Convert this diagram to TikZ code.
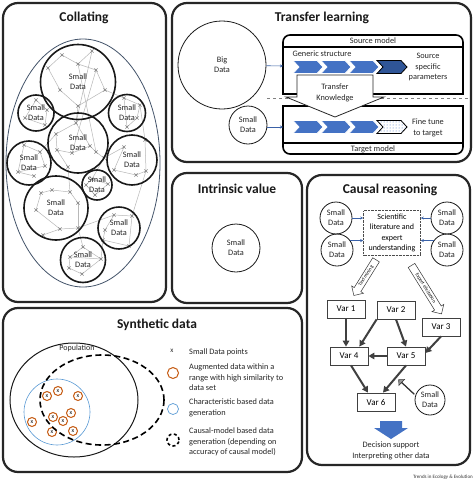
\documentclass[tikz,border=0pt]{standalone}
\usepackage{fontspec}
\setmainfont{Carlito}
\usetikzlibrary{shapes.arrows,arrows.meta,patterns}
\definecolor{cblue}{HTML}{4472C4}
\definecolor{cdblue}{HTML}{2F5597}
\definecolor{corange}{HTML}{C55A11}
\definecolor{clblue}{HTML}{5B9BD5}
\definecolor{cslate}{HTML}{44546A}
\definecolor{carrow}{HTML}{404040}
\newcommand\chevr[3]{\filldraw[#3] (#1,{#2-6.5}) -- ({#1+24},{#2-6.5}) -- ({#1+30},#2) -- ({#1+24},{#2+6.5}) -- (#1,{#2+6.5}) -- ({#1+6},#2) -- cycle;}
\begin{document}
\begin{tikzpicture}[x=1pt,y=-1pt,
  panel/.style={draw=black!85, line width=2.2pt, rounded corners=15pt},
  ptitle/.style={font=\bfseries\fontsize{13.5}{15}\selectfont, text=black!90},
  sd/.style={circle, draw=black!90, line width=1.6pt, align=center, inner sep=0pt, font=\fontsize{8.3}{10}\selectfont, text=black!85},
  sdt/.style={circle, draw=black!90, line width=0.8pt, align=center, inner sep=0pt, font=\fontsize{8.3}{10}\selectfont, text=black!85},
  txt/.style={align=center, font=\fontsize{8.3}{10.5}\selectfont, text=black!85, inner sep=0pt},
  ltxt/.style={align=left, anchor=west, font=\fontsize{8.3}{10.5}\selectfont, text=black!85, inner sep=0pt},
  netline/.style={draw=black!28, line width=0.5pt},
  xmk/.style={draw=black!50, line width=0.5pt},
  smallarr/.style={draw=cblue!85!black, line width=0.6pt, -{Stealth[length=3pt,width=3pt]}},
  var/.style={draw=black!75, line width=0.8pt, fill=white, minimum width=38pt, minimum height=18pt, inner sep=0pt, font=\fontsize{9}{10}\selectfont},
  darr/.style={draw=carrow, line width=2pt, -{Triangle[length=6pt,width=6.5pt]}},
  hollow/.style={single arrow, draw=black!80, fill=white, line width=0.5pt, inner sep=1.5pt, single arrow head extend=3pt, single arrow head indent=0pt, font=\fontsize{5}{5}\selectfont},
  orc/.style={circle, draw=corange, line width=1pt, minimum size=9pt, inner sep=0pt, font=\fontsize{6}{6}\selectfont}
]
\useasboundingbox (0,0) rectangle (474,485);
\fill[white] (0,0) rectangle (474,485);

% ================= Collating =================
\draw[panel] (3,3) rectangle (166,302);
\node[ptitle] (tcol) at (84,18) {Collating};
\draw[cslate, line width=0.8pt] (83,163) ellipse [x radius=77, y radius=124];
\foreach \i/\x/\y in {1/62/55,2/78/64,3/92/51,4/48/68,5/60/90,6/105/90,7/78/106,8/96/70,
 9/36/100,10/47/110,11/25/118,12/45/125,13/124/98,14/140/105,15/127/127,16/137/118,
 17/76/123,18/56/134,19/90/146,20/57/150,21/72/153,22/96/152,23/104/158,24/68/167,
 25/24/145,26/40/152,27/45/166,28/18/172,29/34/176,30/124/147,31/146/171,32/136/175,
 33/114/170,34/92/179,35/108/184,36/95/195,37/86/185,38/41/193,39/52/190,40/70/192,
 41/36/210,42/78/203,43/60/229,44/43/235,45/78/228,46/114/215,47/132/216,48/105/230,
 49/103/240,50/129/246,51/83/247,52/70/257,53/101/259,54/69/268,55/82/274,56/145/140}
 \coordinate (n\i) at (\x,\y);
\foreach \a/\b in {1/2,2/3,1/4,4/5,5/7,2/8,8/6,6/7,3/17,8/21,2/22,9/10,10/12,11/12,9/11,
 13/14,14/16,16/15,13/15,14/56,56/31,17/18,18/20,20/21,21/19,19/22,22/23,17/19,20/24,24/40,
 23/30,30/33,33/32,32/31,23/34,25/26,26/27,27/28,28/29,25/28,26/18,34/35,35/36,36/37,37/34,
 38/39,39/40,40/42,38/41,41/43,43/44,43/45,42/45,45/46,46/47,47/50,46/48,48/49,49/50,47/31,
 51/52,52/53,53/51,52/54,54/55,55/53,45/51,49/53,6/13,7/17}
 \draw[netline] (n\a) -- (n\b);
\foreach \i in {1,...,56}
 \draw[xmk] (n\i) +(-1.6,-1.6) -- +(1.6,1.6) +(-1.6,1.6) -- +(1.6,-1.6);
\node[sd, minimum size=75pt] (c1) at (78,82) {Small\\Data};
\node[sd, minimum size=36pt] (c2) at (36,113) {Small\\Data};
\node[sd, minimum size=37pt] (c3) at (127,113) {Small\\Data};
\node[sd, minimum size=60pt] (c4) at (78,143) {Small\\Data};
\node[sd, minimum size=44pt] (c5) at (29,163) {Small\\Data};
\node[sd, minimum size=50pt] (c6) at (132,160) {Small\\Data};
\node[sd, minimum size=30pt] (c7) at (97,185) {Small\\Data};
\node[sd, minimum size=64pt] (c8) at (56,208) {Small\\Data};
\node[sd, minimum size=42pt] (c9) at (119,228) {Small\\Data};
\node[sd, minimum size=45pt] (c10) at (83,260) {Small\\Data};

% ================= Transfer learning =================
\draw[panel] (172,3) rectangle (471,162);
\node[ptitle] (ttl) at (322,18) {Transfer learning};
\node[sdt, minimum size=88pt] (big) at (222,65) {Big\\Data};
\node[sdt, minimum size=38pt] (sdtl) at (248,125) {Small\\Data};
\draw[gray, dashed, line width=0.8pt] (267,98) -- (470,98);
% source model frame
\draw[line width=1.6pt, rounded corners=7pt] (283,94) -- (283,35) -- (463,35) -- (463,94);
\draw[line width=1.6pt] (282.2,94) -- (463.8,94);
\draw[line width=1.2pt] (283,47) -- (463,47);
% target model frame
\draw[line width=1.6pt, rounded corners=7pt] (283,106) -- (283,154) -- (463,154) -- (463,106);
\draw[line width=1.6pt] (282.2,106) -- (463.8,106);
\draw[line width=1.2pt] (283,143) -- (463,143);
\node[txt] (srcm) at (373,41) {Source model};
\node[txt] (tgtm) at (373,149) {Target model};
\node[txt] (gens) at (322,54) {Generic structure};
\node[txt] (ssp) at (428,67) {Source\\specific\\parameters};
\node[txt] (ftt) at (428,128) {Fine tune\\to target};
\chevr{293}{67}{fill=cblue, draw=white, line width=0.7pt}
\chevr{321}{67}{fill=cblue, draw=white, line width=0.7pt}
\chevr{349}{67}{fill=cblue, draw=white, line width=0.7pt}
\chevr{377}{67}{fill=cdblue, draw=black, line width=0.8pt}
\chevr{293}{127}{fill=cblue, draw=white, line width=0.7pt}
\chevr{321}{127}{fill=cblue, draw=white, line width=0.7pt}
\chevr{349}{127}{fill=cblue, draw=white, line width=0.7pt}
\chevr{377}{127}{pattern=dots, pattern color=cblue, draw=black, line width=0.8pt}
\coordinate (srcin) at (283,66);
\coordinate (tgtin) at (283,127);
\draw[smallarr] (big) -- (srcin);
\draw[smallarr] (sdtl.east |- tgtin) -- (tgtin);
\filldraw[fill=white, draw=black!85, line width=0.8pt] (297,75) -- (373,75) -- (373,97) -- (384,97) -- (335,117) -- (286,97) -- (297,97) -- cycle;
\node[txt] (tk) at (335,93) {Transfer\\Knowledge};

% ================= Intrinsic value =================
\draw[panel] (172,173) rectangle (302,303);
\node[ptitle] (tiv) at (237,189) {Intrinsic value};
\node[sdt, minimum size=48pt] (sdiv) at (236,248) {Small\\Data};

% ================= Causal reasoning =================
\draw[panel] (307,175) rectangle (470,465);
\node[ptitle] (tcr) at (390,190) {Causal reasoning};
\node[sdt, minimum size=32pt] (s1) at (336,218) {Small\\Data};
\node[sdt, minimum size=32pt] (s2) at (337,250) {Small\\Data};
\node[sdt, minimum size=32pt] (s3) at (447,218) {Small\\Data};
\node[sdt, minimum size=32pt] (s4) at (447,250) {Small\\Data};
\node[draw=black!70, dash pattern=on 0.7pt off 0.7pt, line width=0.6pt, minimum width=57pt, minimum height=45pt, align=center, inner sep=0pt, font=\fontsize{8}{10.4}\selectfont] (lit) at (392,233) {Scientific\\literature and\\expert\\understanding};
\draw[smallarr] (s1.east) -- (s1.east -| lit.west);
\draw[smallarr] (s2.35) -- (s2.35 -| lit.west);
\draw[smallarr] (s3.west) -- (s3.west -| lit.east);
\draw[smallarr] (s4.145) -- (s4.145 -| lit.east);
\node[hollow, rotate=58.1, shape border rotate=180, minimum height=42pt] (tmine) at (366,276) {Text mining};
\node[hollow, rotate=-58.2, minimum height=57pt] (expel) at (425.5,288) {Expert elicitation};
\node[var] (v1) at (346,309) {Var 1};
\node[var] (v2) at (396,310) {Var 2};
\node[var] (v3) at (441,327) {Var 3};
\node[var] (v4) at (349,356) {Var 4};
\node[var] (v5) at (406,356) {Var 5};
\node[var] (v6) at (376,402) {Var 6};
\draw[darr] (v1.south) -- (v1.south |- v4.north);
\draw[darr] (v2.south west) -- ([xshift=-9pt]v4.north east);
\draw[darr] (v2.south) -- (v5.north);
\draw[darr] (v3.south) -- ([yshift=3pt]v5.east);
\draw[darr] (v5.west) -- (v4.east);
\draw[darr] ([xshift=2pt]v4.south) -- ([xshift=-8pt]v6.north);
\draw[darr] (v5.south) -- ([xshift=7pt]v6.north);
\node[sdt, minimum size=30pt] (s5) at (430,400) {Small\\Data};
\node[single arrow, draw=black!80, fill=black!40, line width=0.6pt, rotate=137, minimum height=21pt, minimum width=8pt, inner sep=0pt, single arrow head extend=3.5pt, single arrow head indent=0pt] (garr) at (406.5,387) {};
\fill[cblue] (380,421) -- (402,421) -- (402,428) -- (408,428) -- (391,439) -- (374,428) -- (380,428) -- cycle;
\node[txt, font=\fontsize{8.3}{11}\selectfont] (dec) at (391,450.5) {Decision support\\Interpreting other data};

% ================= Synthetic data =================
\draw[panel] (3,308) rectangle (302,472);
\node[ptitle] (tsd) at (157,325) {Synthetic data};
\draw[black!90, line width=1pt] (74,400) ellipse [x radius=64, y radius=57];
\node[txt, font=\fontsize{8}{9}\selectfont] (pop) at (77,348) {Population};
\draw[clblue, line width=0.6pt] (57,412) circle [radius=33];
\foreach \i/\x/\y in {1/58/391,2/47/396,3/78/396,4/32/422,5/53/417,6/71/413,7/63/421,8/52/432,9/73/431}
 \node[orc] (o\i) at (\x,\y) {x};
\draw[black, line width=1.6pt, dash pattern=on 6pt off 3.5pt] (102,400) ellipse [x radius=62, y radius=45];
\node[txt, font=\fontsize{7}{8}\selectfont] (lx) at (172,351) {x};
\node[ltxt] (l1) at (189,352) {Small Data points};
\node[orc, minimum size=11pt] (lo) at (173,373) {};
\node[ltxt] (l2) at (189,377.5) {Augmented data within a\\range with high similarity to\\data set};
\node[circle, draw=clblue, line width=0.7pt, minimum size=11pt, inner sep=0pt] (lb) at (173,409) {};
\node[ltxt] (l3) at (189,408) {Characteristic based data\\generation};
\node[circle, draw=black, line width=1.6pt, dash pattern=on 3pt off 2.5pt, minimum size=12pt, inner sep=0pt] (ld) at (173,440) {};
\node[ltxt] (l4) at (189,442) {Causal-model based data\\generation (depending on\\accuracy of causal model)};

\node[anchor=east, inner sep=0pt, font=\fontsize{5}{6}\selectfont, text=black!80] (cred) at (473,477) {Trends in Ecology \& Evolution};
\end{tikzpicture}
\end{document}
